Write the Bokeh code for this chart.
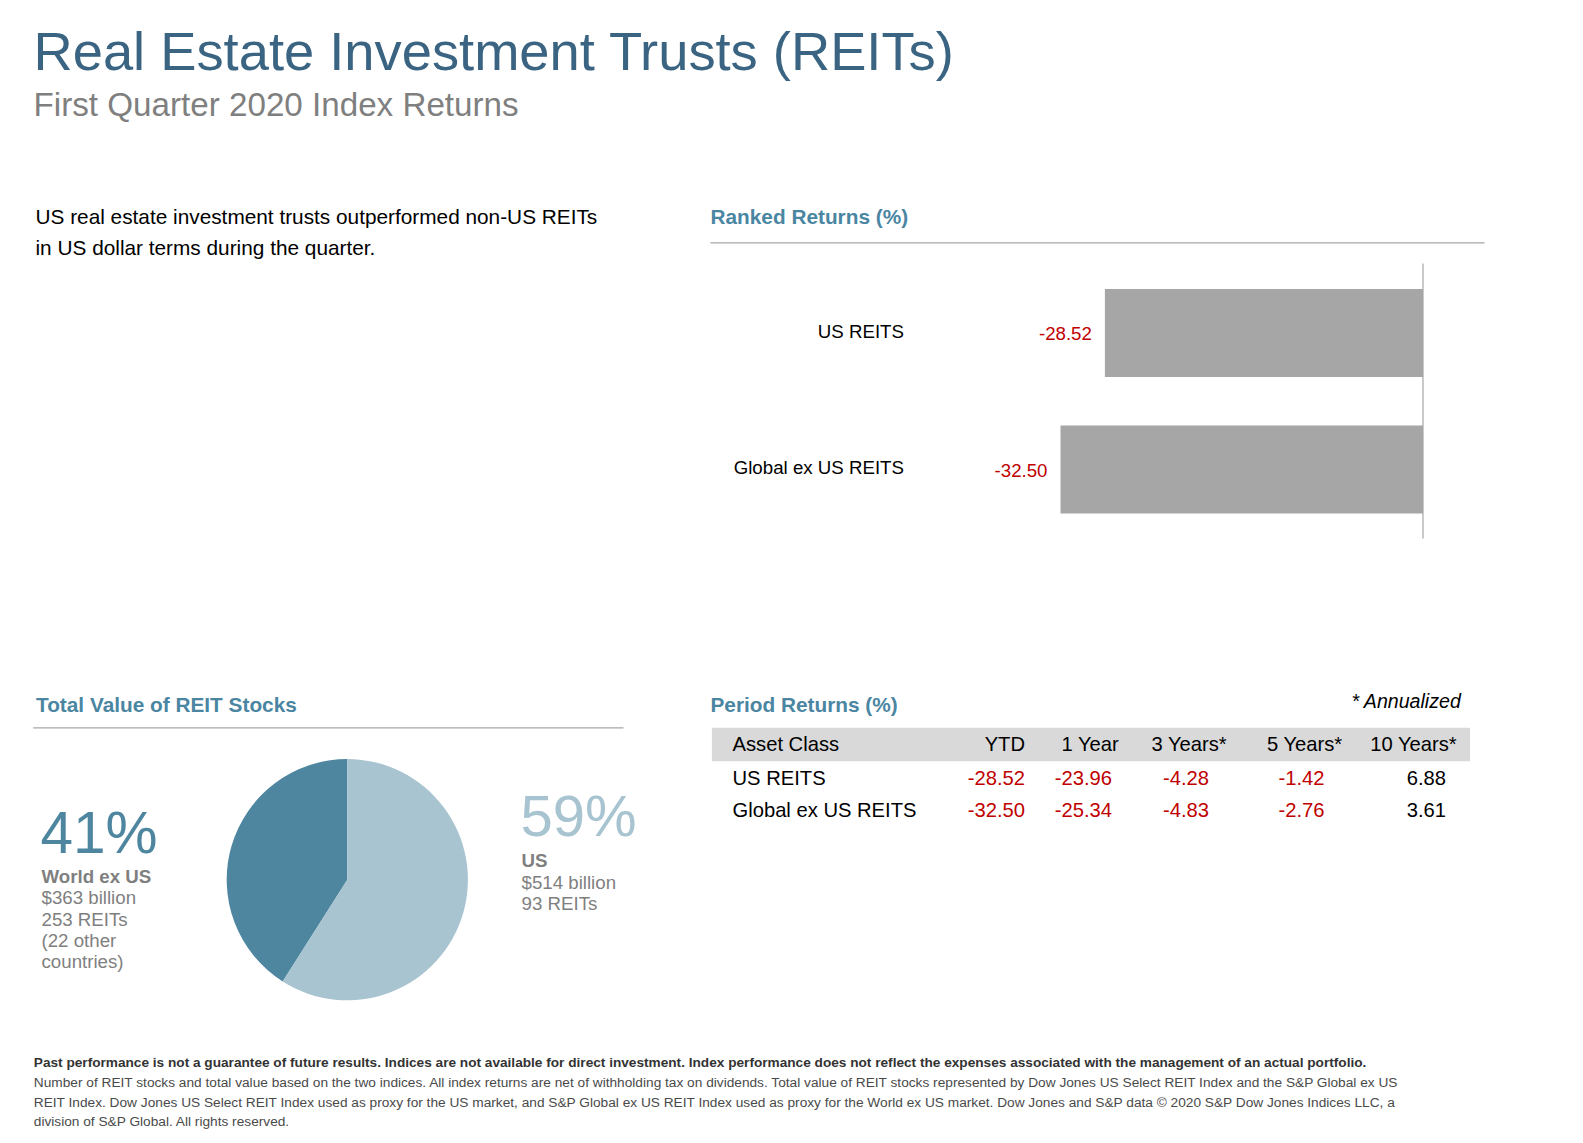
import math
from bokeh.plotting import figure
from bokeh.models import Range1d
from bokeh.core.properties import value
from bokeh.embed import file_html
from bokeh.resources import INLINE

# ---------------- data ----------------
title = "Real Estate Investment Trusts (REITs)"
subtitle = "First Quarter 2020 Index Returns"
intro_lines = ["US real estate investment trusts outperformed non-US REITs",
               "in US dollar terms during the quarter."]

ranked_title = "Ranked Returns (%)"
ranked_labels = ["US REITS", "Global ex US REITS"]
ranked_values = [-28.52, -32.50]

period_title = "Period Returns (%)"
annualized_note = "* Annualized"
table_columns = ["Asset Class", "YTD", "1 Year", "3 Years*", "5 Years*", "10 Years*"]
table_assets = ["US REITS", "Global ex US REITS"]
ytd = [-28.52, -32.50]
one_year = [-23.96, -25.34]
three_years = [-4.28, -4.83]
five_years = [-1.42, -2.76]
ten_years = [6.88, 3.61]

pie_title = "Total Value of REIT Stocks"
pie_labels = ["World ex US", "US"]
pie_shares = [41, 59]
pie_values_bn = [363, 514]
pie_reit_counts = [253, 93]
pie_extra = ["(22 other", "countries)"]

footer_bold = ("Past performance is not a guarantee of future results. Indices are not available for direct "
               "investment. Index performance does not reflect the expenses associated with the management of an actual portfolio.")
footer_lines = [
    "Number of REIT stocks and total value based on the two indices. All index returns are net of withholding tax on dividends. Total value of REIT stocks represented by Dow Jones US Select REIT Index and the S&P Global ex US",
    "REIT Index. Dow Jones US Select REIT Index used as proxy for the US market, and S&P Global ex US REIT Index used as proxy for the World ex US market. Dow Jones and S&P data \u00a9 2020 S&P Dow Jones Indices LLC, a",
    "division of S&P Global. All rights reserved.",
]

# ---------------- layout / style ----------------
W, H = 1575, 1135
FONT = "Liberation Sans"
TITLE_C = "#3A6482"
HEAD_C = "#4A86A2"
DARK_SLICE = "#4E86A0"
LIGHT_SLICE = "#A7C4D0"
BAR_C = "#A6A6A6"
RULE_C = "#A6A6A6"
RED = "#C00000"
GREY = "#7F7F7F"
BASE_K = 0.37  # baseline correction (fraction of font size)


def px(x):
    return x


def py(y):
    return H - y


p = figure(width=W, height=H, x_range=Range1d(0, W), y_range=Range1d(0, H),
           x_axis_type=None, y_axis_type=None, output_backend="svg",
           toolbar_location=None, min_border=0)
p.grid.visible = False
p.outline_line_color = None
p.background_fill_color = "white"
p.border_fill_color = "white"


def txt(x, y, s, size, color, style="normal", align="left", font=FONT):
    p.text(x=[px(x)], y=[py(y - BASE_K * size)], text=[s], text_font=value(font),
           text_font_size=f"{size}px", text_color=color, text_align=align,
           text_baseline="alphabetic", text_font_style=style)


# titles
txt(33, 71, title, 54.3, TITLE_C)
txt(33, 116, subtitle, 33.2, GREY)
txt(35, 224, intro_lines[0], 20.8, "#000000")
txt(35, 255, intro_lines[1], 20.8, "#000000")

# ---------------- ranked returns bar chart ----------------
txt(710, 224, ranked_title, 20.8, HEAD_C, style="bold")
p.segment(x0=[px(710)], x1=[px(1484)], y0=[py(242.3)], y1=[py(242.3)],
          line_color=RULE_C, line_width=1.3)

ZERO_X = 1422.5
PPU = (ZERO_X - 1060.0) / 32.5
p.extra_x_ranges = {"ret": Range1d((0 - px(ZERO_X)) / PPU, (W - px(ZERO_X)) / PPU)}

bar_center = [332.5, 469.0]
p.hbar(y=[py(b) for b in bar_center], left=ranked_values, right=0, height=88, x_range_name="ret",
       fill_color=BAR_C, line_color=None)
p.segment(x0=[0], x1=[0], y0=[py(263)], y1=[py(538)], x_range_name="ret",
          line_color=RULE_C, line_width=1.2)
LAB = 18.7
p.text(x=ranked_values, y=[py(b + 7.5 - BASE_K * LAB) for b in bar_center],
       text=[f"{v:.2f}" for v in ranked_values],
       x_range_name="ret", x_offset=-13, text_align="right", text_baseline="alphabetic",
       text_font=value(FONT), text_font_size=f"{LAB}px", text_color=RED)
for lab, b in zip(ranked_labels, bar_center):
    txt(903.5, b + 5, lab, LAB, "#000000", align="right")

# ---------------- period returns table ----------------
txt(710, 711.5, period_title, 20.8, HEAD_C, style="bold")
txt(1461, 708, annualized_note, 19.6, "#000000", style="italic", align="right")
p.quad(left=[px(711.4)], right=[px(1469.6)], top=[py(727.3)], bottom=[py(760.7)],
       fill_color="#D9D9D9", line_color=None)

col_right = [1024.5, 1118.6, 1226.5, 1342, 1456.5]
val_right = [1024.5, 1111.5, 1208.5, 1324, 1445.5]
TB = 20.2
txt(732, 751, table_columns[0], TB, "#000000")
for c, xr in zip(table_columns[1:], col_right):
    txt(xr, 751, c, TB, "#000000", align="right")

row_base = [785, 817]
series = [ytd, one_year, three_years, five_years, ten_years]
for i, asset in enumerate(table_assets):
    txt(732, row_base[i], asset, TB, "#000000")
    for s, xr in zip(series, val_right):
        v = s[i]
        txt(xr, row_base[i], f"{v:.2f}", TB, RED if v < 0 else "#000000", align="right")

# ---------------- pie ----------------
txt(35.5, 711.5, pie_title, 20.8, HEAD_C, style="bold")
p.segment(x0=[px(32.8)], x1=[px(623)], y0=[py(727.3)], y1=[py(727.3)],
          line_color=RULE_C, line_width=1.3)

total = float(sum(pie_shares))
starts, ends = [], []
a = math.pi / 2
for s in pie_shares:
    starts.append(a)
    a = a + 2 * math.pi * s / total
    ends.append(a)
p.wedge(x=[px(346.8)] * 2, y=[py(879.2)] * 2, radius=120.6, radius_units="screen",
        start_angle=starts, end_angle=ends, direction="anticlock",
        fill_color=[DARK_SLICE, LIGHT_SLICE], line_color=None)

# left label (World ex US)
txt(40, 853.3, f"{pie_shares[0]}%", 58.5, DARK_SLICE)
txt(41, 883, pie_labels[0], 18.7, GREY, style="bold")
txt(41, 904.3, f"${pie_values_bn[0]} billion", 18.7, GREY)
txt(41, 925.8, f"{pie_reit_counts[0]} REITs", 18.7, GREY)
txt(41, 947, pie_extra[0], 18.7, GREY)
txt(41, 968.3, pie_extra[1], 18.7, GREY)

# right label (US)
txt(520, 836.7, f"{pie_shares[1]}%", 58, LIGHT_SLICE)
txt(521, 866.7, pie_labels[1], 18.7, GREY, style="bold")
txt(521, 889, f"${pie_values_bn[1]} billion", 18.7, GREY)
txt(521, 910, f"{pie_reit_counts[1]} REITs", 18.7, GREY)

# ---------------- footer ----------------
txt(33.3, 1067, footer_bold, 13.65, "#333333", style="bold")
for k, line in enumerate(footer_lines):
    txt(33.3, 1087 + k * 19.7, line, 13.7, "#4A4A4A")

open("out.html", "w").write(file_html(p, INLINE))
